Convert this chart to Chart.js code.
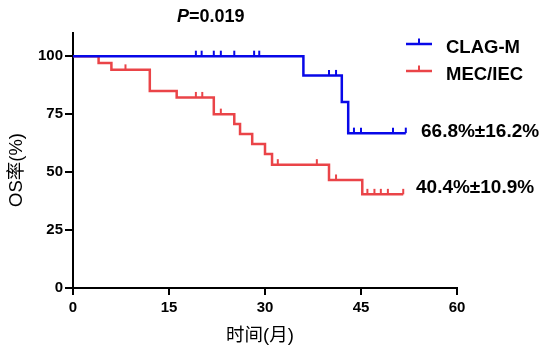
<!DOCTYPE html>
<html>
<head>
<meta charset="utf-8">
<script src="https://cdn.jsdelivr.net/npm/chart.js@4/dist/chart.umd.min.js"></script>
<style>
  html, body { margin: 0; padding: 0; background: #fff; }
  #wrap { width: 545px; height: 348px; position: relative; }
</style>
</head>
<body>
<div id="wrap"><canvas id="c" width="545" height="348"></canvas></div>
<script>
// Kaplan-Meier overall survival, two treatment groups
const groupNames = ['CLAG-M', 'MEC/IEC'];

// CLAG-M: event times (months) and survival (%) after each step
const clagTimes = [0, 36, 42, 43, 52];
const clagSurv = [100, 91.7, 80.2, 66.8, 66.8];
const clagCensored = [19.2, 20.1, 22.0, 23.1, 25.2, 28.3, 29.1, 40.0, 41.1, 43.9, 45.0, 50.0, 52.0];

// MEC/IEC
const mecTimes = [0, 4, 6, 12, 16.2, 22, 25.2, 26.1, 28, 30, 31.1, 40, 45.2, 51.6];
const mecSurv = [100, 97.1, 94.1, 85.0, 82.2, 75.0, 70.7, 66.4, 62.1, 57.8, 53.2, 46.6, 40.4, 40.4];
const mecCensored = [8.2, 19.2, 20.2, 23.1, 32.0, 38.1, 41.1, 46.0, 47.1, 48.1, 49.2, 51.6];

const xTicks = [0, 15, 30, 45, 60];
const yTicks = [0, 25, 50, 75, 100];
const survivalLabels = ['66.8%±16.2%', '40.4%±10.9%'];
const pValue = '0.019';
const xTitle = '时间(月)';
const yTitle = 'OS率(%)';

const BLUE = '#0808e8';
const RED = '#ea4448';

function toPoints(times, surv) {
  return times.map((t, i) => ({ x: t, y: surv[i] }));
}
function levelAt(times, surv, t) {
  let v = surv[0];
  for (let i = 0; i < times.length; i++) if (times[i] <= t) v = surv[i];
  return v;
}

const series = [
  { name: groupNames[0], times: clagTimes, surv: clagSurv, cens: clagCensored, color: BLUE },
  { name: groupNames[1], times: mecTimes, surv: mecSurv, cens: mecCensored, color: RED }
];

const KM_FONT = '"Liberation Sans", Arial, sans-serif';
const TITLE_FONT = '"Liberation Sans", "Noto Sans CJK SC", sans-serif';

const kmExtras = {
  id: 'kmExtras',
  afterDatasetsDraw(chart) {
    const { ctx, scales: { x, y } } = chart;
    ctx.save();
    // censoring marks: short upward ticks on each curve
    ctx.lineWidth = 2;
    [series[1], series[0]].forEach(s => {
      ctx.strokeStyle = s.color;
      s.cens.forEach(t => {
        const px = x.getPixelForValue(t);
        const py = y.getPixelForValue(levelAt(s.times, s.surv, t));
        ctx.beginPath();
        ctx.moveTo(px, py);
        ctx.lineTo(px, py - 5.5);
        ctx.stroke();
      });
    });
    ctx.restore();
  },
  afterDraw(chart) {
    const { ctx } = chart;
    ctx.save();
    ctx.fillStyle = '#000';
    ctx.textBaseline = 'middle';

    // legend
    const legendY = [44, 71];
    series.forEach((s, i) => {
      const ly = legendY[i];
      ctx.strokeStyle = s.color;
      ctx.lineWidth = 2.5;
      ctx.beginPath();
      ctx.moveTo(406, ly);
      ctx.lineTo(432, ly);
      ctx.stroke();
      ctx.lineWidth = 2;
      ctx.beginPath();
      ctx.moveTo(419, ly);
      ctx.lineTo(419, ly - 5.5);
      ctx.stroke();
      ctx.fillStyle = '#000';
      ctx.font = 'bold 18.5px ' + KM_FONT;
      ctx.textAlign = 'left';
      ctx.fillText(s.name, 446, ly + 4);
    });

    // survival rate labels at the end of each curve
    ctx.font = 'bold 19px ' + KM_FONT;
    ctx.textAlign = 'left';
    ctx.fillText(survivalLabels[0], 421, 132);
    ctx.fillText(survivalLabels[1], 416, 188);

    // log-rank p value
    ctx.font = 'italic bold 18px ' + KM_FONT;
    ctx.fillText('P', 177, 17);
    const pw = ctx.measureText('P').width;
    ctx.font = 'bold 18px ' + KM_FONT;
    ctx.fillText('=' + pValue, 177 + pw, 17);

    // axis titles
    ctx.font = '18.5px ' + TITLE_FONT;
    ctx.textAlign = 'center';
    ctx.fillText(xTitle, 260, 336);
    ctx.translate(17, 170);
    ctx.rotate(-Math.PI / 2);
    ctx.fillText(yTitle, 0, 0);
    ctx.restore();
  }
};

const axisCommon = {
  border: { display: true, color: '#000', width: 2 },
  grid: {
    display: true, drawOnChartArea: false, drawTicks: true,
    color: '#000', lineWidth: 2, tickColor: '#000', tickWidth: 2
  }
};

new Chart(document.getElementById('c'), {
  type: 'line',
  data: {
    datasets: series.map((s, i) => ({
      label: s.name,
      data: toPoints(s.times, s.surv),
      stepped: true,
      borderColor: s.color,
      borderWidth: 2.5,
      pointRadius: 0,
      fill: false,
      order: i
    }))
  },
  options: {
    responsive: false,
    devicePixelRatio: 1,
    animation: false,
    events: [],
    layout: { padding: { top: 33, right: 88, left: 0, bottom: 0 } },
    plugins: { legend: { display: false }, tooltip: { enabled: false } },
    scales: {
      x: {
        type: 'linear', min: 0, max: 60,
        ...axisCommon,
        grid: { ...axisCommon.grid, tickLength: 7 },
        afterBuildTicks: s => { s.ticks = xTicks.map(v => ({ value: v })); },
        afterFit: s => { s.height = 60; },
        ticks: {
          color: '#000', padding: 4, maxRotation: 0, autoSkip: false,
          font: { family: KM_FONT, size: 15, weight: 'bold' }
        }
      },
      y: {
        type: 'linear', min: 0, max: 110,
        ...axisCommon,
        grid: { ...axisCommon.grid, tickLength: 8 },
        afterBuildTicks: s => { s.ticks = yTicks.map(v => ({ value: v })); },
        afterFit: s => { s.width = 73; },
        ticks: {
          color: '#000', padding: 2,
          font: { family: KM_FONT, size: 15, weight: 'bold' }
        }
      }
    }
  },
  plugins: [kmExtras]
});
</script>
</body>
</html>
